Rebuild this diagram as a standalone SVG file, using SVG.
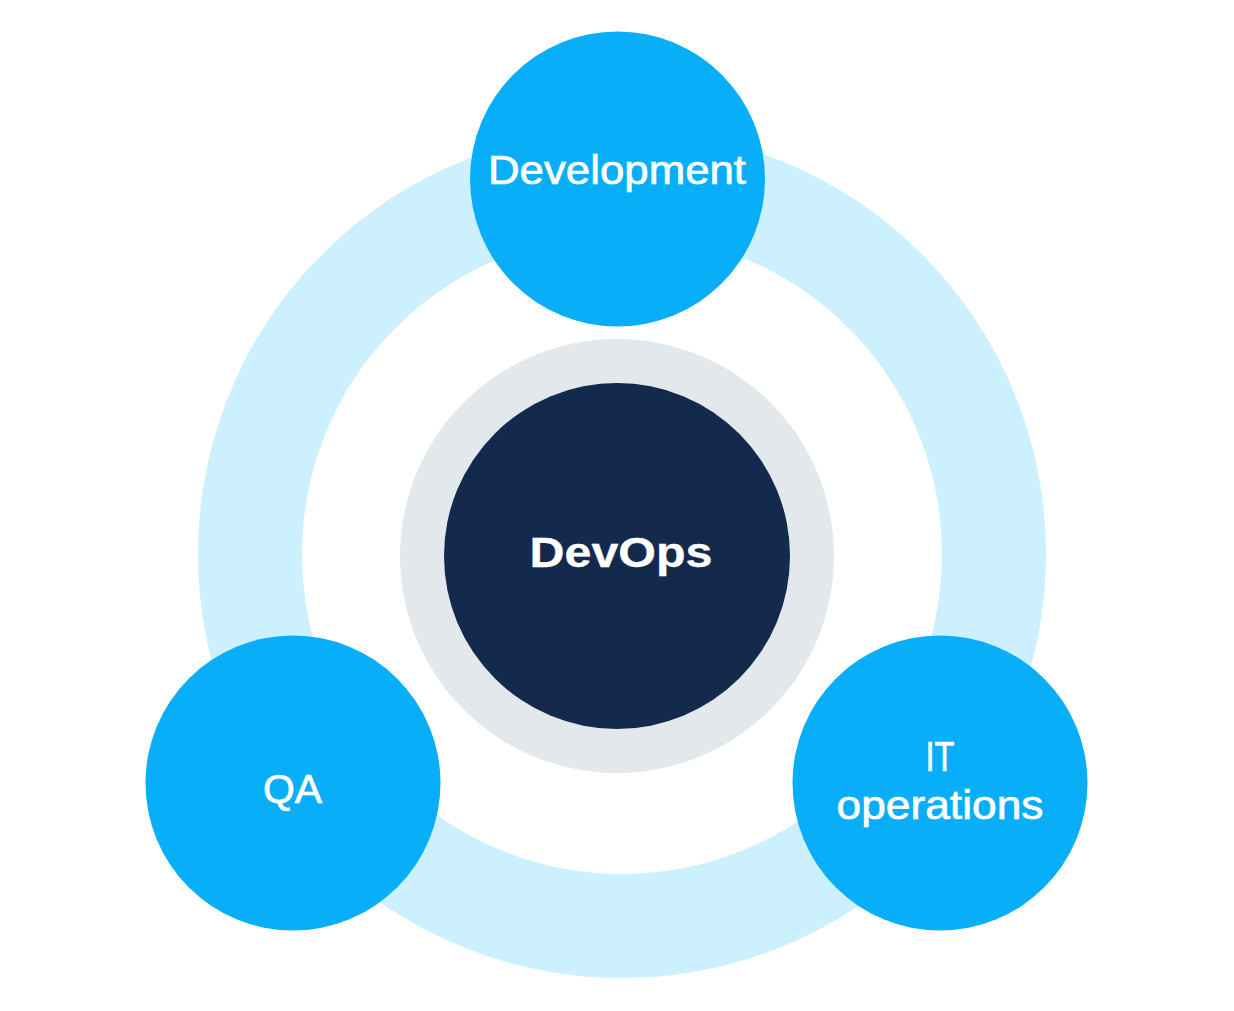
<svg xmlns="http://www.w3.org/2000/svg" width="1234" height="1011" viewBox="0 0 1234 1011">
<style>
.lbl{font-family:"Liberation Sans","Inter",Arial,sans-serif;fill:#ffffff;text-anchor:middle;stroke:#ffffff;stroke-width:0.7}
.node{fill:#08aef7}
</style>
<rect width="1234" height="1011" fill="#ffffff"/>
<g id="ring">
<circle cx="622" cy="554" r="372" fill="none" stroke="#ccf0fd" stroke-width="104"/>
</g>
<g id="connectors"></g>
<g id="devops">
<circle cx="617" cy="556" r="217" fill="#e3e8ec"/>
<circle cx="617" cy="556" r="173" fill="#132a4d"/>
<text class="lbl" x="621" y="567" font-size="42" font-weight="bold" textLength="183" lengthAdjust="spacingAndGlyphs" style="stroke-width:0.3">DevOps</text>
</g>
<g id="development">
<circle class="node" cx="617.5" cy="179" r="147.5"/>
<text class="lbl" x="617" y="184" font-size="41" textLength="258" lengthAdjust="spacingAndGlyphs">Development</text>
</g>
<g id="qa">
<circle class="node" cx="293" cy="783" r="147.5"/>
<text class="lbl" x="292.5" y="803" font-size="41" textLength="59" lengthAdjust="spacingAndGlyphs">QA</text>
</g>
<g id="it-operations">
<circle class="node" cx="940" cy="783" r="147.5"/>
<text class="lbl" x="940" y="771" font-size="42" textLength="29" lengthAdjust="spacingAndGlyphs">IT</text>
<text class="lbl" x="940" y="819" font-size="41" textLength="207" lengthAdjust="spacingAndGlyphs">operations</text>
</g>
</svg>
